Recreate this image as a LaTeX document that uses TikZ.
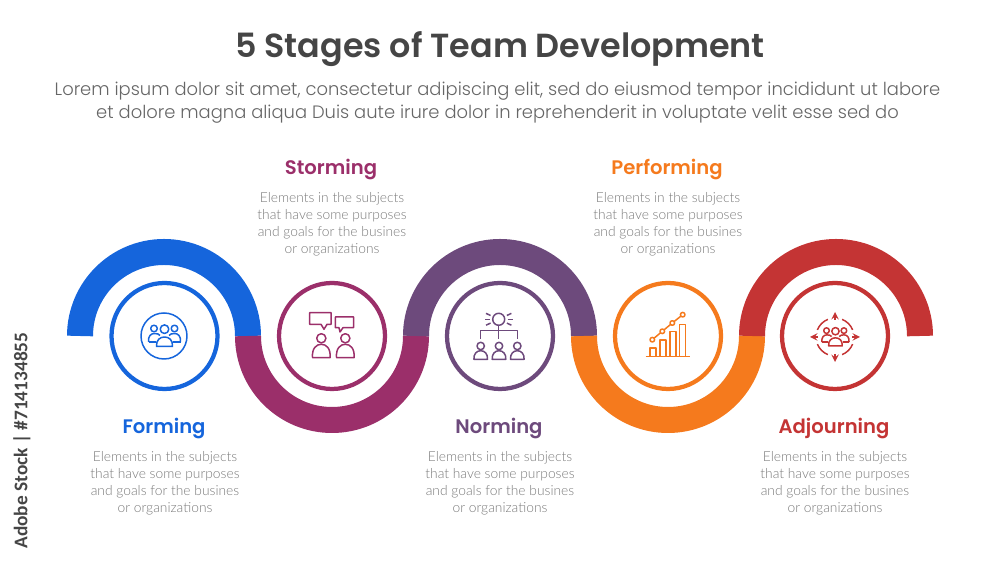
\documentclass[tikz,border=0pt]{standalone}
\usepackage{fontspec}
\usepackage{xcolor}
\usetikzlibrary{calc}
\setmainfont{Lato Light}
\newfontfamily\titlefont{Poppins SemiBold}
\newfontfamily\leadfont{Poppins Light}
\newfontfamily\stockfont{Carlito}

\definecolor{formingblue}{HTML}{1565DC}
\definecolor{stormingred}{HTML}{9B2F6A}
\definecolor{normingpurple}{HTML}{6D4A7C}
\definecolor{performingorange}{HTML}{F57A1D}
\definecolor{adjourningred}{HTML}{C43434}
\definecolor{titlegray}{HTML}{454545}
\definecolor{leadgray}{HTML}{666666}
\definecolor{bodygray}{HTML}{7A7A7A}

\newcommand\bodytext{Elements in the subjects\\that have some purposes\\and goals for the\hspace{0.28em}busines\\or organizations}

\newcommand\groupicon[1]{
    \draw[iconline,#1] (-10,7.5) circle (3.3);
    \draw[iconline,#1] (10.5,7.5) circle (3.3);
    \draw[iconline,#1] (0.5,6.8) circle (4.3);
    \draw[iconline,#1] (-15.5,-6) .. controls (-16,0) and (-13,2.5) .. (-9.5,2.5) .. controls (-7,2.5) and (-5,2) .. (-4,0.5);
    \draw[iconline,#1] (-15.5,-6) -- (-8,-6);
    \draw[iconline,#1] (16.5,-6) .. controls (17,0) and (14,2.5) .. (10.5,2.5) .. controls (8,2.5) and (6,2) .. (5,0.5);
    \draw[iconline,#1] (16.5,-6) -- (9,-6);
    \draw[iconline,#1,fill=white] (-7.5,-10.5) .. controls (-8,-4) and (-4,-1) .. (0.5,-1) .. controls (5,-1) and (9,-4) .. (8.5,-10.5) -- cycle;
}
\newcommand\personicon[3]{
    \draw[iconline,#3] (#1,#2) circle (4.6);
    \draw[iconline,#3] (#1-8.8,#2-19.4) .. controls (#1-9.5,#2-10) and (#1-5,#2-6) .. (#1,#2-6) .. controls (#1+5,#2-6) and (#1+9.5,#2-10) .. (#1+8.8,#2-19.4) -- cycle;
}
\newcommand\smallperson[3]{
    \draw[iconline,#3] (#1,#2) circle (3.7);
    \draw[iconline,#3] (#1-6.8,#2-13.3) .. controls (#1-7.2,#2-8) and (#1-4,#2-4.7) .. (#1,#2-4.7) .. controls (#1+4,#2-4.7) and (#1+7.2,#2-8) .. (#1+6.8,#2-13.3) -- cycle;
}

\tikzset{
    bandline/.style={line width=0.52cm},
    stagering/.style={circle,draw,line width=0.085cm,minimum size=2.12cm,inner sep=0pt},
    iconline/.style={line width=0.85pt,line join=round},
    stagehead/.style={font=\titlefont\fontsize{11.15}{14}\selectfont},
    stagebody/.style={font=\fontsize{7.85}{9.67}\selectfont,text=bodygray,align=center},
}

\begin{document}
\begin{tikzpicture}[x=0.02cm,y=0.02cm]
    \useasboundingbox (0,0) rectangle (1000,563);

    % heading
    \node[font=\titlefont\fontsize{19}{24}\selectfont,text=titlegray] (title) at (500,514) {5 Stages of Team Development};
    \node[font=\leadfont\fontsize{10.2}{13}\selectfont,text=leadgray,align=center] (lead) at (497.5,460) {Lorem ipsum dolor sit amet, consectetur adipiscing elit, sed do eiusmod tempor incididunt ut labore\\et dolore magna aliqua Duis aute irure dolor in reprehenderit in voluptate velit esse sed do};

    % wave
    \draw[bandline,formingblue] (80,227) arc (180:0:84);
    \draw[bandline,stormingred] (248,227) arc (180:360:84);
    \draw[bandline,normingpurple] (416,227) arc (180:0:84);
    \draw[bandline,performingorange] (584,227) arc (180:360:84);
    \draw[bandline,adjourningred] (752,227) arc (180:0:84);

    % rings
    \node[stagering,draw=formingblue] (forming) at (164.5,227) {};
    \node[stagering,draw=stormingred] (storming) at (332,227) {};
    \node[stagering,draw=normingpurple] (norming) at (500,227) {};
    \node[stagering,draw=performingorange] (performing) at (668,227) {};
    \node[stagering,draw=adjourningred] (adjourning) at (835,227) {};

    % labels
    \node[stagehead,text=formingblue] (formingname) at (164,134) {Forming};
    \node[stagebody] (formingtext) at (165,80) {\bodytext};
    \node[stagehead,text=stormingred] (stormingname) at (331,393) {Storming};
    \node[stagebody] (stormingtext) at (332,339) {\bodytext};
    \node[stagehead,text=normingpurple] (normingname) at (499,134) {Norming};
    \node[stagebody] (normingtext) at (500,80) {\bodytext};
    \node[stagehead,text=performingorange] (performingname) at (667,393) {Performing};
    \node[stagebody] (performingtext) at (668,339) {\bodytext};
    \node[stagehead,text=adjourningred] (adjourningname) at (834,134) {Adjourning};
    \node[stagebody] (adjourningtext) at (835,80) {\bodytext};

    % forming icon
    \begin{scope}[shift={(164,227)}]
        \draw[iconline,formingblue] (0,0) circle (23);
        \groupicon{formingblue}
    \end{scope}

    % storming icon
    \begin{scope}[shift={(332,227)}]
        \draw[iconline,stormingred] (-22.3,23.3) -- (-1,23.3) -- (-1,11.7) -- (-5,11.7) -- (-8,6.7) -- (-11,11.7) -- (-22.3,11.7) -- cycle;
        \draw[iconline,stormingred] (3.3,19) -- (21.5,19) -- (21.5,8.3) -- (11,8.3) -- (8,4) -- (7,8.3) -- (3.3,8.3) -- cycle;
        \personicon{-10.7}{-2.3}{stormingred}
        \personicon{13.3}{-2.3}{stormingred}
    \end{scope}

    % norming icon
    \begin{scope}[shift={(500,227)}]
        \draw[iconline,normingpurple] (-1.3,16.7) circle (6);
        \foreach \rayangle in {-25,0,25,155,180,205}
            \draw[iconline,normingpurple] ($(-1.3,16.7)+(\rayangle:9)$) -- ($(-1.3,16.7)+(\rayangle:14)$);
        \draw[iconline,normingpurple] (-1.3,10.7) -- (-1.3,-3);
        \draw[iconline,normingpurple] (-19.3,-3) -- (-19.3,5.7) -- (17.3,5.7) -- (17.3,-3);
        \smallperson{-19.3}{-10}{normingpurple}
        \smallperson{-1}{-10}{normingpurple}
        \smallperson{17.3}{-10}{normingpurple}
    \end{scope}

    % performing icon
    \begin{scope}[shift={(668,227)}]
        \draw[iconline,performingorange] (-22.3,-20.3) -- (22,-20.3);
        \draw[iconline,performingorange] (-18,-20.3) rectangle (-12,-12);
        \draw[iconline,performingorange] (-8,-20.3) rectangle (-2,-4);
        \draw[iconline,performingorange] (2,-20.3) rectangle (8,4.3);
        \draw[iconline,performingorange] (11.3,-20.3) rectangle (17.5,11.7);
        \draw[iconline,performingorange] (-15.7,-3.7) -- (-5.7,4.7) -- (4.3,13) -- (14.7,21.3);
        \draw[iconline,performingorange,fill=white] (-15.7,-3.7) circle (2.3);
        \draw[iconline,performingorange,fill=white] (-5.7,4.7) circle (2.3);
        \draw[iconline,performingorange,fill=white] (4.3,13) circle (2.3);
        \draw[iconline,performingorange,fill=white] (14.7,21.3) circle (2.3);
    \end{scope}

    % adjourning icon
    \begin{scope}[shift={(835,226)}]
        \begin{scope}[scale=0.85]
            \groupicon{adjourningred}
        \end{scope}
        \foreach \armangle in {0,90,180,270}{
            \draw[iconline,adjourningred,->,>=stealth] (\armangle:17) -- (\armangle:25);
            \draw[iconline,adjourningred] (\armangle+22:19) arc (\armangle+22:\armangle+68:19);
        }
    \end{scope}

    % stock line
    \node[font=\stockfont\bfseries\fontsize{11}{14}\selectfont,text=titlegray,rotate=90] (stock) at (22,122.5) {Adobe Stock | \#714134855};
\end{tikzpicture}
\end{document}
